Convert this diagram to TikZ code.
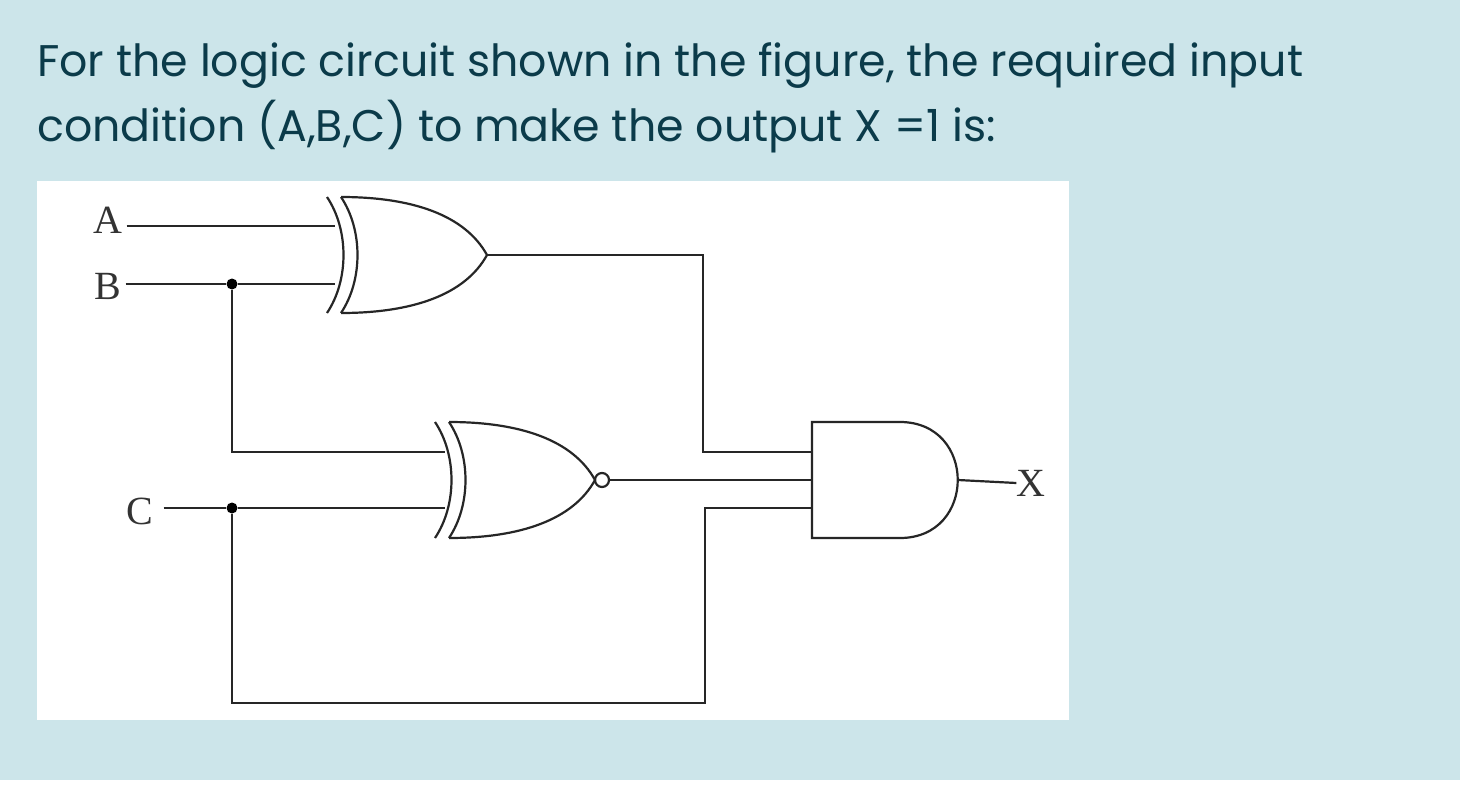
\documentclass[tikz,border=0pt]{standalone}
\usepackage{fontspec}
\setmainfont{Poppins}
\newfontfamily\serifl{Liberation Serif}
\definecolor{bg}{HTML}{CCE5EA}
\definecolor{txt}{HTML}{0B3B4A}
\tikzset{wire/.style={line width=2.2pt,black!85},
 dot/.style={circle,fill=black,inner sep=0pt,minimum size=11pt},
 lbl/.style={font=\serifl\fontsize{40}{40}\selectfont,text=black!80,inner sep=0pt},
 pics/xorg/.style={code={
  \draw[wire] (0,-58) .. controls (22,-25) and (22,25) .. (0,58);
  \draw[wire] (14,-58) .. controls (36,-25) and (36,25) .. (14,58);
  \draw[wire] (14,-58) .. controls (85,-58) and (138,-40) .. (160,0)
             .. controls (138,40) and (85,58) .. (14,58);}},
 pics/andg/.style={code={
  \draw[wire] (88,-58) -- (0,-58) -- (0,58) -- (88,58) .. controls (165,58) and (165,-58) .. (88,-58);}}}
\begin{document}
\begin{tikzpicture}[x=1pt,y=-1pt]
\useasboundingbox (0,0) rectangle (1460,811);
\fill[bg] (0,0) rectangle (1460,780);
\fill[white] (37,181) rectangle (1069,720);
\node[anchor=base west,text=txt,font=\fontsize{44.3}{44.3}\selectfont,inner sep=0pt] (q1) at (37,76) {For the logic circuit shown in the figure, the required input};
\node[anchor=base west,text=txt,font=\fontsize{44.3}{44.3}\selectfont,inner sep=0pt] (q2) at (37,141) {condition (A,B,C) to make the output X =1 is:};
% gates
\pic at (327,255) {xorg};
\pic at (435,480) {xorg};
\pic at (812,480) {andg};
\draw[wire] (602,480) circle (7pt);
% coordinates
\coordinate (x1o) at (487,255);
\coordinate (x2o) at (609,480);
\coordinate (a1) at (812,452);
\coordinate (a2) at (812,480);
\coordinate (a3) at (812,508);
\coordinate (ao) at (958,480);
\node[lbl] (A) at (108,220) {A};
\node[lbl] (B) at (108,286) {B};
\node[lbl] (C) at (140,511) {C};
\node[lbl] (X) at (1031,483) {X};
\node[dot] (db) at (232,284) {};
\node[dot] (dc) at (232,508) {};
\draw[wire] (A.east)++(4,6) -- (335,226);
\draw[wire] (B.east)++(4,-2) -- (db) -- (335,284);
\draw[wire] (C.east)++(10,-3) -- (dc) -- (445,508);
\draw[wire] (db) -- (232,452) -- (445,452);
\draw[wire] (x1o) -- (703,255) -- (703,452) -- (a1);
\draw[wire] (x2o) -- (a2);
\draw[wire] (dc) -- (232,703) -- (705,703) -- (705,508) -- (a3);
\draw[wire] (ao) -- (X.west);
\end{tikzpicture}
\end{document}
